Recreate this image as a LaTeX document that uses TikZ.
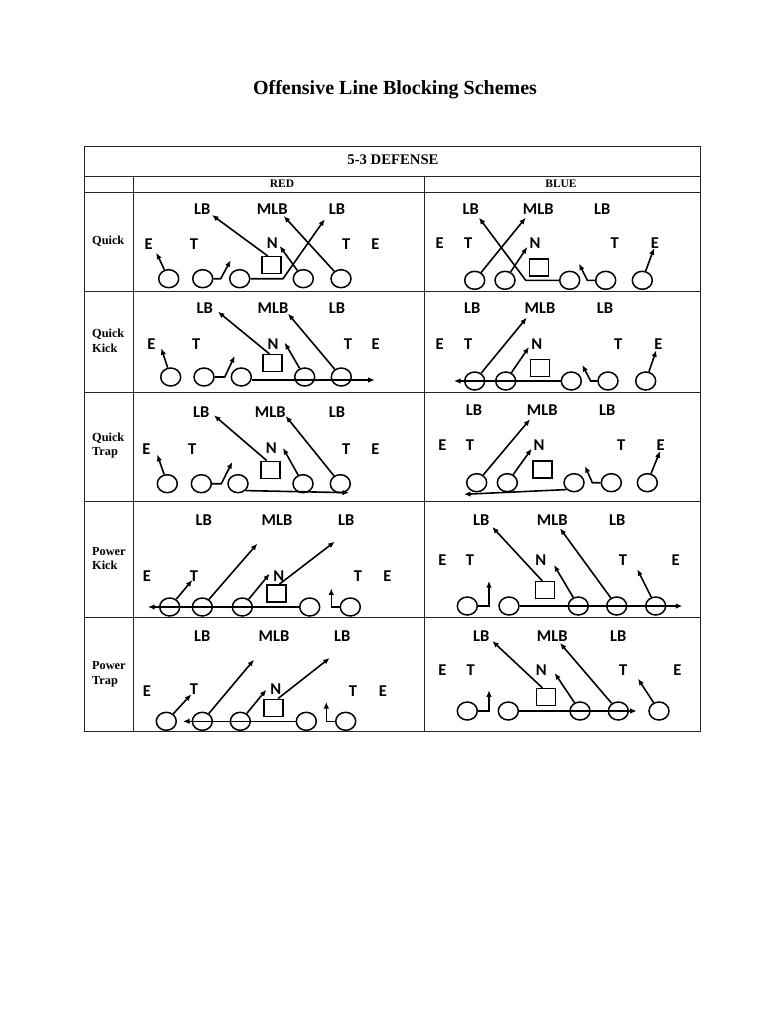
\documentclass[tikz,border=0pt]{standalone}
\usepackage{fontspec}
\setmainfont{Liberation Serif}
\newfontfamily\calib{Carlito}
\usetikzlibrary{shapes.geometric,arrows.meta}
\begin{document}
\begin{tikzpicture}[x=1pt,y=-1pt,
  pl/.style={draw,ellipse,minimum width=20pt,minimum height=18pt,inner sep=0pt,line width=1.5pt},
  sqbox/.style={draw,rectangle,minimum width=19pt,minimum height=17pt,inner sep=0pt,line width=1.5pt},
  lab/.style={inner sep=0pt,font=\calib\bfseries\fontsize{16.5pt}{16.5pt}\selectfont},
  arr/.style={line width=1.6pt,-{Latex[length=6.5pt,width=5.5pt]}},
  grid/.style={line width=0.9pt,draw=black!85},
  rowlab/.style={inner sep=0pt,anchor=west,align=left,font=\bfseries\fontsize{12.3pt}{14.5pt}\selectfont},
  hdr/.style={inner sep=0pt,font=\bfseries\fontsize{11.5pt}{11.5pt}\selectfont}]
\useasboundingbox (0,0) rectangle (768,1024);
\fill[white] (0,0) rectangle (768,1024);

% title
\node[inner sep=0pt,font=\bfseries\fontsize{20pt}{20pt}\selectfont] (title) at (395,90) {Offensive Line Blocking Schemes};

% table
\draw[grid] (84.5,146) rectangle (700.5,731);
\draw[grid] (84.5,176) -- (700.5,176);
\draw[grid] (84.5,192) -- (700.5,192);
\draw[grid] (84.5,291) -- (700.5,291);
\draw[grid] (84.5,392) -- (700.5,392);
\draw[grid] (84.5,501) -- (700.5,501);
\draw[grid] (84.5,617) -- (700.5,617);
\draw[grid] (133,176) -- (133,731);
\draw[grid] (424,176) -- (424,731);

\node[inner sep=0pt,font=\bfseries\fontsize{14.7pt}{14.7pt}\selectfont] (def) at (393,160) {5-3 DEFENSE};
\node[hdr] (red) at (282,184) {RED};
\node[hdr] (blue) at (561,184) {BLUE};

\node[rowlab] (rq) at (92,241) {Quick};
\node[rowlab] (rqk) at (92,341) {Quick\\Kick};
\node[rowlab] (rqt) at (92,445.5) {Quick\\Trap};
\node[rowlab] (rpk) at (92,558.5) {Power\\Kick};
\node[rowlab] (rpt) at (92,674.5) {Power\\Trap};

% ===== A: Red Quick =====
\node[lab] (Al1) at (202.3,209.3) {LB};
\node[lab] (Am) at (272.3,209.3) {MLB};
\node[lab] (Al2) at (337,209.3) {LB};
\node[lab] (Ae1) at (148.7,244.3) {E};
\node[lab] (At1) at (194,244.3) {T};
\node[lab] (An) at (272.3,243) {N};
\node[lab] (At2) at (346.3,244.3) {T};
\node[lab] (Ae2) at (375.3,244.3) {E};
\node[pl] (A1) at (168.7,278.7) {};
\node[pl] (A2) at (202.7,278.7) {};
\node[pl] (A3) at (239.7,278.7) {};
\node[pl] (A4) at (303.3,278.7) {};
\node[pl] (A5) at (341,278.7) {};
\node[sqbox] (As) at (271.7,265.2) {};
\coordinate (Ax1) at (156.3,252.7);
\coordinate (Ak2) at (220.7,278.7);
\coordinate (Ax2) at (230.7,260.3);
\coordinate (Ak3) at (283,278.7);
\coordinate (Ax3) at (324.7,219.3);
\coordinate (Axs) at (212,215);
\coordinate (Ax4) at (279.7,246);
\coordinate (Ax5) at (283.7,216);
\draw[arr] (A1) -- (Ax1);
\draw[arr] (A2.east) -- (Ak2) -- (Ax2);
\draw[arr] (A3.east) -- (Ak3) -- (Ax3);
\draw[arr] ([xshift=-4pt]As.north) -- (Axs);
\draw[arr] (A4) -- (Ax4);
\draw[arr] (A5) -- (Ax5);

% ===== B: Blue Quick =====
\node[lab] (Bl1) at (470.7,209.3) {LB};
\node[lab] (Bm) at (538.3,209.3) {MLB};
\node[lab] (Bl2) at (602.3,209.3) {LB};
\node[lab] (Be1) at (439.7,242.7) {E};
\node[lab] (Bt1) at (468.3,242.7) {T};
\node[lab] (Bn) at (535,242.7) {N};
\node[lab] (Bt2) at (614.7,242.7) {T};
\node[lab] (Be2) at (655,242.7) {E};
\node[pl] (B1) at (474.7,280.3) {};
\node[pl] (B2) at (505,280.3) {};
\node[pl] (B3) at (569.7,280.3) {};
\node[pl] (B4) at (605.7,280.3) {};
\node[pl] (B5) at (642.3,280.3) {};
\node[sqbox] (Bs) at (538.8,267.3) {};
\coordinate (Bx1) at (525.7,217.7);
\coordinate (Bx2) at (527.3,247);
\coordinate (Bk3) at (525.7,280.3);
\coordinate (Bx3) at (479,217.7);
\coordinate (Bk4) at (587.3,280.3);
\coordinate (Bx4) at (579,263.7);
\coordinate (Bx5) at (654,248.3);
\draw[arr] (B1) -- (Bx1);
\draw[arr] (B2) -- (Bx2);
\draw[arr] (B3.west) -- (Bk3) -- (Bx3);
\draw[arr] (B4.west) -- (Bk4) -- (Bx4);
\draw[arr] (B5) -- (Bx5);

% ===== C: Red Quick Kick =====
\node[lab] (Cl1) at (204.7,308.3) {LB};
\node[lab] (Cm) at (273,308.3) {MLB};
\node[lab] (Cl2) at (337,308.3) {LB};
\node[lab] (Ce1) at (151.3,343.7) {E};
\node[lab] (Ct1) at (196.3,343.7) {T};
\node[lab] (Cn) at (273,343.7) {N};
\node[lab] (Ct2) at (348,343.7) {T};
\node[lab] (Ce2) at (375.7,343.7) {E};
\node[pl] (C1) at (170.7,377) {};
\node[pl] (C2) at (204,377) {};
\node[pl] (C3) at (241.3,377) {};
\node[pl] (C4) at (304.7,377) {};
\node[pl] (C5) at (341.3,377) {};
\node[sqbox] (Cs) at (272.5,363.2) {};
\coordinate (Cx1) at (161.3,348.3);
\coordinate (Ck2) at (224.7,377);
\coordinate (Cx2) at (234.7,356);
\coordinate (Cx3) at (374.7,380);
\coordinate (Cxs) at (218,311.7);
\coordinate (Cx4) at (284.7,342.7);
\coordinate (Cx5) at (288,313.7);
\draw[arr] (C1) -- (Cx1);
\draw[arr] (C2.east) -- (Ck2) -- (Cx2);
\draw[arr] ([yshift=-3pt]C3.east) -- (Cx3);
\draw[arr] ([xshift=-3pt]Cs.north) -- (Cxs);
\draw[arr] (C4) -- (Cx4);
\draw[arr] (C5) -- (Cx5);

% ===== D: Blue Quick Kick =====
\node[lab] (Dl1) at (472.3,308.3) {LB};
\node[lab] (Dm) at (540,308.3) {MLB};
\node[lab] (Dl2) at (605,308.3) {LB};
\node[lab] (De1) at (439.7,343.7) {E};
\node[lab] (Dt1) at (468.3,343.7) {T};
\node[lab] (Dn) at (536.7,343.7) {N};
\node[lab] (Dt2) at (618.3,343.7) {T};
\node[lab] (De2) at (658.3,343.7) {E};
\node[pl] (D1) at (474.7,381) {};
\node[pl] (D2) at (505.7,381) {};
\node[pl] (D3) at (571.3,381) {};
\node[pl] (D4) at (608,381) {};
\node[pl] (D5) at (645.7,381) {};
\node[sqbox] (Ds) at (540.2,368.2) {};
\coordinate (Dx1) at (526.7,317.7);
\coordinate (Dx2) at (529,347);
\coordinate (Dx3) at (454,381);
\coordinate (Dk4) at (590.7,381);
\coordinate (Dx4) at (582.3,365);
\coordinate (Dx5) at (656.3,350.3);
\draw[arr] (D1) -- (Dx1);
\draw[arr] (D2) -- (Dx2);
\draw[arr] (D3.west) -- (Dx3);
\draw[arr] (D4.west) -- (Dk4) -- (Dx4);
\draw[arr] (D5) -- (Dx5);

% ===== E: Red Quick Trap =====
\node[lab] (El1) at (201.3,412) {LB};
\node[lab] (Em) at (270.3,412) {MLB};
\node[lab] (El2) at (337,412) {LB};
\node[lab] (Ee1) at (146.3,448.7) {E};
\node[lab] (Et1) at (192.3,448.7) {T};
\node[lab] (En) at (271.3,448) {N};
\node[lab] (Et2) at (346.3,448.7) {T};
\node[lab] (Ee2) at (375.3,448.7) {E};
\node[pl] (E1) at (167.3,483.7) {};
\node[pl] (E2) at (201.3,483.7) {};
\node[pl] (E3) at (238,483.7) {};
\node[pl] (E4) at (303,483.7) {};
\node[pl] (E5) at (340.3,483.7) {};
\node[sqbox] (Es) at (270.7,469.8) {};
\coordinate (Ex1) at (157.3,454.7);
\coordinate (Ek2) at (221.3,483.7);
\coordinate (Ex2) at (232.3,462);
\coordinate (Ex3) at (349,492.7);
\coordinate (Exs) at (214,415.3);
\coordinate (Ex4) at (283,448);
\coordinate (Ex5) at (285.7,416);
\draw[arr] (E1) -- (Ex1);
\draw[arr] (E2.east) -- (Ek2) -- (Ex2);
\draw[arr] (E3.south east) -- (Ex3);
\draw[arr] ([xshift=-4pt]Es.north) -- (Exs);
\draw[arr] (E4) -- (Ex4);
\draw[arr] (E5) -- (Ex5);

% ===== F: Blue Quick Trap =====
\node[lab] (Fl1) at (474,410.3) {LB};
\node[lab] (Fm) at (542.3,410.3) {MLB};
\node[lab] (Fl2) at (607.3,410.3) {LB};
\node[lab] (Fe1) at (442.3,444.7) {E};
\node[lab] (Ft1) at (470,444.7) {T};
\node[lab] (Fn) at (539,444.7) {N};
\node[lab] (Ft2) at (621.3,444.7) {T};
\node[lab] (Fe2) at (660.7,444.7) {E};
\node[pl] (F1) at (476.7,482.7) {};
\node[pl] (F2) at (507.3,482.7) {};
\node[pl] (F3) at (574,482.7) {};
\node[pl] (F4) at (611.3,482.7) {};
\node[pl] (F5) at (647.3,482.7) {};
\node[sqbox] (Fs) at (542.7,469.5) {};
\coordinate (Fx1) at (530,419.3);
\coordinate (Fx2) at (531.7,448.7);
\coordinate (Fx3) at (464,494.3);
\coordinate (Fk4) at (592.3,482.7);
\coordinate (Fx4) at (585,466);
\coordinate (Fx5) at (660,451.3);
\draw[arr] (F1) -- (Fx1);
\draw[arr] (F2) -- (Fx2);
\draw[arr] (F3.south west) -- (Fx3);
\draw[arr] (F4.west) -- (Fk4) -- (Fx4);
\draw[arr] (F5) -- (Fx5);

% ===== G: Red Power Kick =====
\node[lab] (Gl1) at (203.7,520) {LB};
\node[lab] (Gm) at (277,520) {MLB};
\node[lab] (Gl2) at (346.3,520) {LB};
\node[lab] (Ge1) at (147,576) {E};
\node[lab] (Gt1) at (194,576) {T};
\node[lab] (Gn) at (278.7,576) {N};
\node[lab] (Gt2) at (358,576) {T};
\node[lab] (Ge2) at (387.3,576) {E};
\node[pl] (G1) at (169.7,607) {};
\node[pl] (G2) at (202.3,607) {};
\node[pl] (G3) at (242.3,607) {};
\node[pl] (G4) at (309.7,607) {};
\node[pl] (G5) at (350.3,607) {};
\node[sqbox] (Gs) at (276.3,593.5) {};
\coordinate (Gx4) at (148,607);
\coordinate (Gx1) at (192.3,580);
\coordinate (Gx2) at (257.3,543.7);
\coordinate (Gx3) at (269.7,573.7);
\coordinate (Gxs) at (334.7,541.7);
\coordinate (Gk5) at (331.3,607);
\coordinate (Gx5) at (331.3,588.3);
\draw[arr] (G4.west) -- (Gx4);
\draw[arr] (G1) -- (Gx1);
\draw[arr] (G2) -- (Gx2);
\draw[arr] (G3) -- (Gx3);
\draw[arr] ([xshift=3pt]Gs.north) -- (Gxs);
\draw[arr] (G5.west) -- (Gk5) -- (Gx5);

% ===== H: Blue Power Kick =====
\node[lab] (Hl1) at (481.3,520) {LB};
\node[lab] (Hm) at (552.3,520) {MLB};
\node[lab] (Hl2) at (617.3,520) {LB};
\node[lab] (He1) at (442.3,560.3) {E};
\node[lab] (Ht1) at (470,560.3) {T};
\node[lab] (Hn) at (540.7,560.3) {N};
\node[lab] (Ht2) at (623,560.3) {T};
\node[lab] (He2) at (675.7,560.3) {E};
\node[pl] (H1) at (467.3,606) {};
\node[pl] (H2) at (509,606) {};
\node[pl] (H3) at (578.3,606) {};
\node[pl] (H4) at (616.7,606) {};
\node[pl] (H5) at (655.7,606) {};
\node[sqbox] (Hs) at (544.8,590.2) {};
\coordinate (Hx2) at (682.3,606);
\coordinate (Hxs) at (492.3,527);
\coordinate (Hx3) at (554,565);
\coordinate (Hx4) at (560,528.3);
\coordinate (Hx5) at (637.3,569.3);
\coordinate (Hk1) at (489,606);
\coordinate (Hx1) at (489,581);
\draw[arr] (H2.east) -- (Hx2);
\draw[arr] ([xshift=-2.5pt]Hs.north) -- (Hxs);
\draw[arr] (H3) -- (Hx3);
\draw[arr] (H4) -- (Hx4);
\draw[arr] (H5) -- (Hx5);
\draw[arr] (H1.east) -- (Hk1) -- (Hx1);

% ===== I: Red Power Trap =====
\node[lab] (Il1) at (202.3,636) {LB};
\node[lab] (Im) at (274,636) {MLB};
\node[lab] (Il2) at (342.3,636) {LB};
\node[lab] (Ie1) at (147,691) {E};
\node[lab] (It1) at (194,689.3) {T};
\node[lab] (In) at (275.7,689.3) {N};
\node[lab] (It2) at (353,691) {T};
\node[lab] (Ie2) at (383,691) {E};
\node[pl] (I1) at (166.3,721.3) {};
\node[pl] (I2) at (202.3,721.3) {};
\node[pl] (I3) at (240.3,721.3) {};
\node[pl] (I4) at (306.3,721.3) {};
\node[pl] (I5) at (345.7,721.3) {};
\node[sqbox] (Is) at (273.3,707.8) {};
\coordinate (Ix4) at (183,721.3);
\coordinate (Ix1) at (191.3,694.3);
\coordinate (Ix2) at (254,659.7);
\coordinate (Ix3) at (266.3,689.7);
\coordinate (Ixs) at (329.7,658);
\coordinate (Ik5) at (326.3,721.3);
\coordinate (Ix5) at (326.3,702);
\draw[arr] (I4.west) -- (Ix4);
\draw[arr] (I1) -- (Ix1);
\draw[arr] (I2) -- (Ix2);
\draw[arr] (I3) -- (Ix3);
\draw[arr] ([xshift=4.7pt]Is.north) -- (Ixs);
\draw[arr] (I5.west) -- (Ik5) -- (Ix5);

% ===== J: Blue Power Trap =====
\node[lab] (Jl1) at (481.3,636) {LB};
\node[lab] (Jm) at (552.3,636) {MLB};
\node[lab] (Jl2) at (618.3,636) {LB};
\node[lab] (Je1) at (442.3,670.3) {E};
\node[lab] (Jt1) at (470.7,670.3) {T};
\node[lab] (Jn) at (541.3,670.3) {N};
\node[lab] (Jt2) at (623.3,670.3) {T};
\node[lab] (Je2) at (677.3,670.3) {E};
\node[pl] (J1) at (467.3,711) {};
\node[pl] (J2) at (508.3,711) {};
\node[pl] (J3) at (580,711) {};
\node[pl] (J4) at (618.3,711) {};
\node[pl] (J5) at (659,711) {};
\node[sqbox] (Js) at (546,697) {};
\coordinate (Jx2) at (636.7,711);
\coordinate (Jxs) at (492.3,641);
\coordinate (Jx3) at (554.7,673);
\coordinate (Jx4) at (560,643);
\coordinate (Jx5) at (638,678.7);
\coordinate (Jk1) at (489,711);
\coordinate (Jx1) at (489,690.3);
\draw[arr] (J2.east) -- (Jx2);
\draw[arr] ([xshift=-3.7pt]Js.north) -- (Jxs);
\draw[arr] (J3) -- (Jx3);
\draw[arr] (J4) -- (Jx4);
\draw[arr] (J5) -- (Jx5);
\draw[arr] (J1.east) -- (Jk1) -- (Jx1);
\end{tikzpicture}
\end{document}
